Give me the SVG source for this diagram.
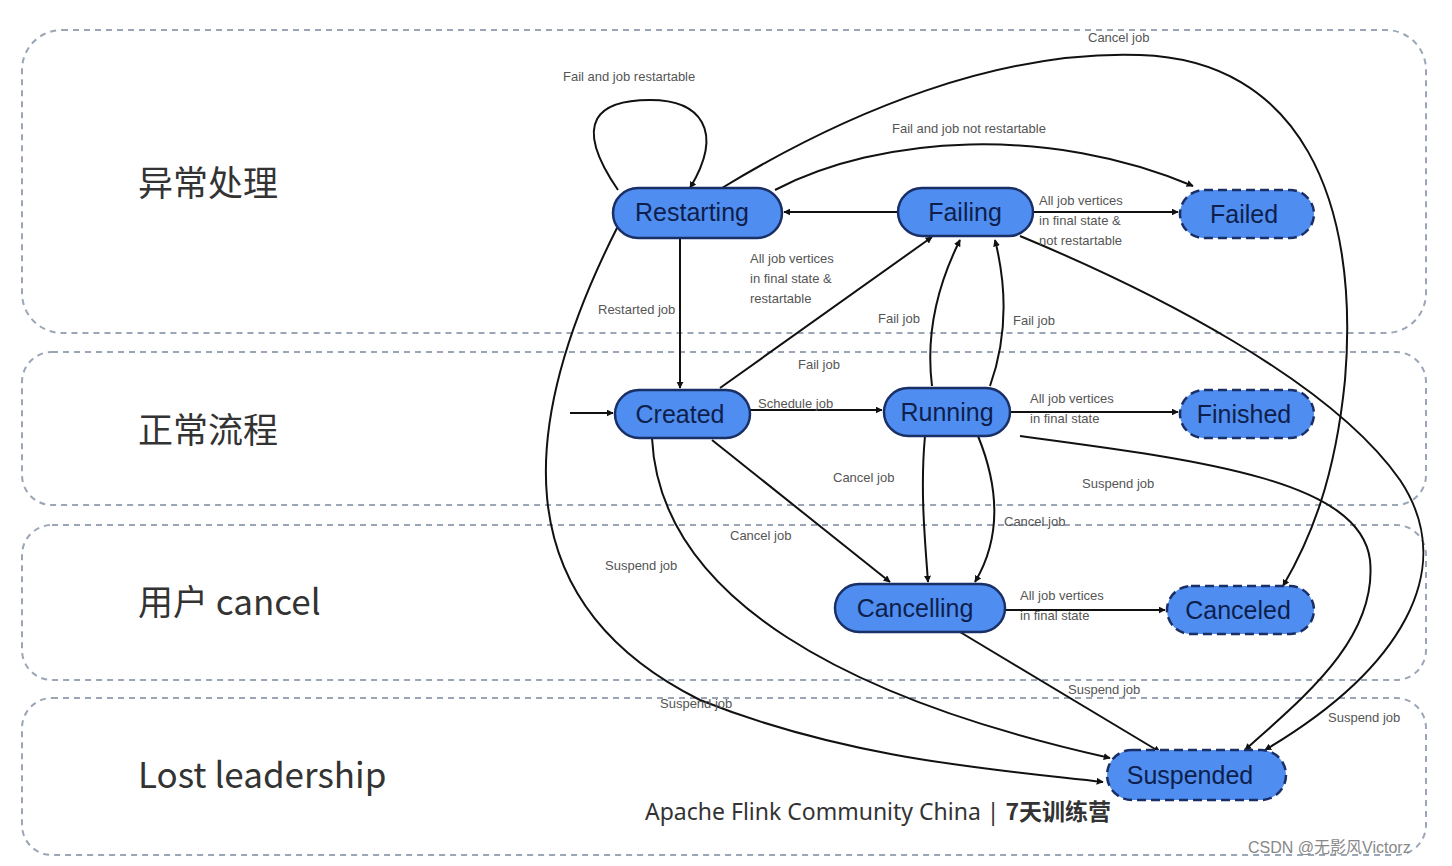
<svg xmlns="http://www.w3.org/2000/svg" width="1452" height="866" viewBox="0 0 1452 866">
<defs>
<marker id="ah" viewBox="0 0 10 10" refX="9" refY="5" markerWidth="7" markerHeight="7" orient="auto-start-reverse" markerUnits="userSpaceOnUse"><path d="M0,0 L10,5 L0,10 z" fill="#111"/></marker>
<style>
.lane{fill:none;stroke:#9aa6b6;stroke-width:2;stroke-dasharray:6 5}
.n rect{fill:#4f8ef0;stroke:#1a2f66;stroke-width:2.5}
.t rect{stroke-dasharray:9 5}
.n text{font-family:"Liberation Sans",Arial,sans-serif;font-size:25px;fill:#0e1f4d;text-anchor:middle}
.e path{fill:none;stroke:#111;stroke-width:2;marker-end:url(#ah)}
.l{font-family:"Liberation Sans",Arial,sans-serif;font-size:13px;fill:#555}
.lane-t{font-family:"Noto Sans CJK SC","Noto Sans",sans-serif;font-size:35px;fill:#333}
</style>
</defs>
<rect width="1452" height="866" fill="#fff"/>
<g id="lanes">
<rect class="lane" x="22" y="30" width="1404" height="303" rx="40"/>
<rect class="lane" x="22" y="352" width="1404" height="153" rx="30"/>
<rect class="lane" x="22" y="525" width="1404" height="155" rx="30"/>
<rect class="lane" x="22" y="698" width="1404" height="157" rx="30"/>
<text class="lane-t" x="138" y="196">异常处理</text>
<text class="lane-t" x="138" y="443">正常流程</text>
<text class="lane-t" x="138" y="615">用户 cancel</text>
<text class="lane-t" x="138" y="788">Lost leadership</text>
</g>
<g id="connectors" class="e">
<path d="M570,413 L613,413"/>
<path d="M618,190 C570,120 600,100 650,100 C700,100 725,130 690,188"/>
<path d="M775,190 C880,135 1050,125 1193,186"/>
<path d="M722,188 C850,110 1000,50 1140,55 C1300,60 1360,200 1345,380 C1335,480 1310,540 1283,586"/>
<path d="M898,212 L784,212"/>
<path d="M1033,212 L1178,212"/>
<path d="M680,238 L680,388"/>
<path d="M720,388 L932,237"/>
<path d="M932,386 C925,330 940,280 960,240"/>
<path d="M990,386 C1010,330 1005,280 995,240"/>
<path d="M750,410 L882,410"/>
<path d="M1010,412 L1178,412"/>
<path d="M925,436 C920,490 925,540 928,582"/>
<path d="M978,436 C1000,490 1000,540 975,582"/>
<path d="M712,440 L890,582"/>
<path d="M1005,610 L1165,610"/>
<path d="M652,438 C660,600 850,700 1110,758"/>
<path d="M617,228 C520,420 500,600 700,700 C850,760 1000,770 1103,782"/>
<path d="M960,632 L1160,752"/>
<path d="M1020,436 C1200,460 1360,480 1370,560 C1378,640 1300,700 1245,750"/>
<path d="M1020,236 C1150,290 1330,380 1400,480 C1460,570 1400,670 1265,750"/>
</g>
<g id="edge-labels">
<text class="l" x="563" y="81">Fail and job restartable</text>
<text class="l" x="1088" y="42">Cancel job</text>
<text class="l" x="892" y="133">Fail and job not restartable</text>
<text class="l" x="1039" y="205">All job vertices</text>
<text class="l" x="1039" y="225">in final state &amp;</text>
<text class="l" x="1039" y="245">not restartable</text>
<text class="l" x="750" y="263">All job vertices</text>
<text class="l" x="750" y="283">in final state &amp;</text>
<text class="l" x="750" y="303">restartable</text>
<text class="l" x="598" y="314">Restarted job</text>
<text class="l" x="878" y="323">Fail job</text>
<text class="l" x="1013" y="325">Fail job</text>
<text class="l" x="798" y="369">Fail job</text>
<text class="l" x="758" y="408">Schedule job</text>
<text class="l" x="1030" y="403">All job vertices</text>
<text class="l" x="1030" y="423">in final state</text>
<text class="l" x="833" y="482">Cancel job</text>
<text class="l" x="1082" y="488">Suspend job</text>
<text class="l" x="1004" y="526">Cancel job</text>
<text class="l" x="730" y="540">Cancel job</text>
<text class="l" x="605" y="570">Suspend job</text>
<text class="l" x="1020" y="600">All job vertices</text>
<text class="l" x="1020" y="620">in final state</text>
<text class="l" x="1068" y="694">Suspend job</text>
<text class="l" x="660" y="708">Suspend job</text>
<text class="l" x="1328" y="722">Suspend job</text>
</g>
<g id="Restarting" class="n"><rect x="613" y="188" width="169" height="50" rx="25"/><text x="692" y="221">Restarting</text></g>
<g id="Failing" class="n"><rect x="898" y="188" width="135" height="48" rx="24"/><text x="965" y="221">Failing</text></g>
<g id="Failed" class="n t"><rect x="1180" y="190" width="134" height="48" rx="24"/><text x="1244" y="223">Failed</text></g>
<g id="Created" class="n"><rect x="615" y="390" width="135" height="48" rx="24"/><text x="680" y="423">Created</text></g>
<g id="Running" class="n"><rect x="884" y="388" width="126" height="48" rx="24"/><text x="947" y="421">Running</text></g>
<g id="Finished" class="n t"><rect x="1180" y="390" width="134" height="48" rx="24"/><text x="1244" y="423">Finished</text></g>
<g id="Cancelling" class="n"><rect x="835" y="584" width="170" height="48" rx="24"/><text x="915" y="617">Cancelling</text></g>
<g id="Canceled" class="n t"><rect x="1167" y="586" width="147" height="48" rx="24"/><text x="1238" y="619">Canceled</text></g>
<g id="Suspended" class="n t"><rect x="1107" y="750" width="179" height="50" rx="25"/><text x="1190" y="784">Suspended</text></g>
<text x="645" y="820" font-family="'Noto Sans','Noto Sans CJK SC',sans-serif" font-size="23" fill="#333">Apache Flink Community China | <tspan font-weight="bold" font-family="'Noto Sans CJK SC',sans-serif">7天训练营</tspan></text>
<text x="1248" y="853" font-family="'Liberation Sans','Noto Sans CJK SC',sans-serif" font-size="16" fill="#888">CSDN @无影风Victorz</text>
</svg>
